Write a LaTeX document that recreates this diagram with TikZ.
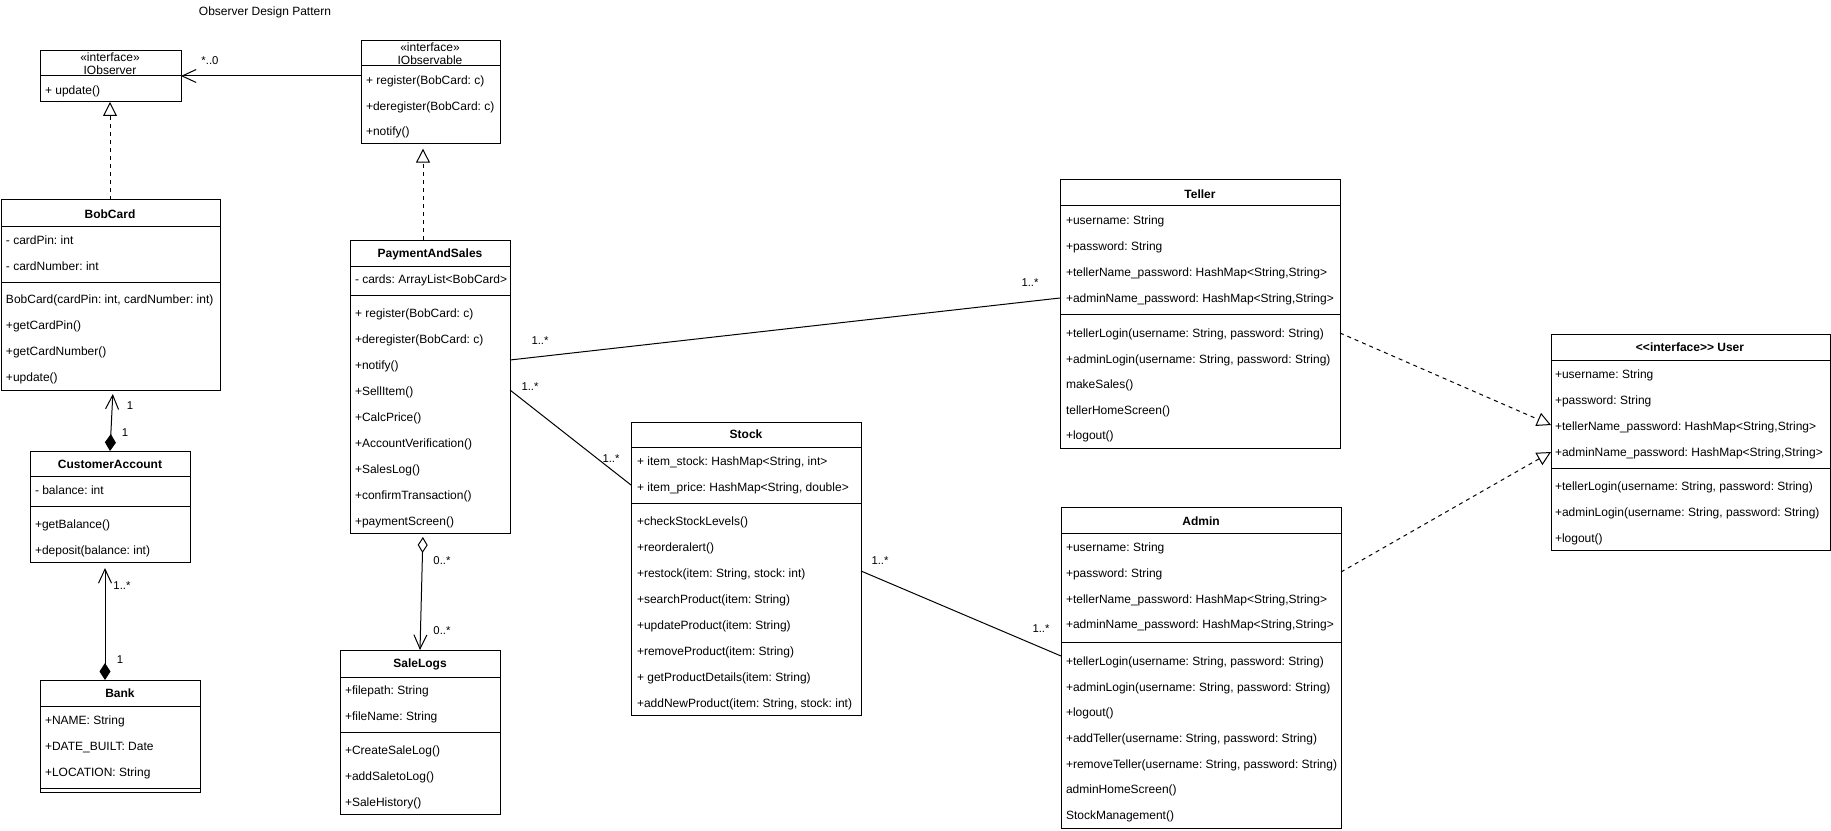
\documentclass[tikz,border=0pt]{standalone}
\usepackage{fontspec}
\setmainfont{Liberation Sans}[Ligatures=TeXOff]
\usetikzlibrary{arrows.meta}
\frenchspacing
\newcounter{rowc}
\newcommand\rw[3]{\stepcounter{rowc}\node[rowtext] (r\arabic{rowc}) at (#1,#2) {#3};}
\newcommand\ttl[3]{\stepcounter{rowc}\node[titletext] (r\arabic{rowc}) at (#1,#2) {#3};}
\newcommand\plain[3]{\stepcounter{rowc}\node[plaintext] (r\arabic{rowc}) at (#1,#2) {#3};}
\newcommand\mult[3]{\stepcounter{rowc}\node[multtext] (m\arabic{rowc}) at (#1,#2) {#3};}
\newcommand\cbox[5]{\node[classbox, minimum width={(#4-#2)*0.75pt}, minimum height={(#5-#3)*0.75pt}] (#1) at (#2,#3) {};}
\newcommand\sepl[3]{\draw (#1,#3) -- (#2,#3);}
\begin{document}
\begin{tikzpicture}[x=0.75pt,y=-0.75pt, line width=0.75pt,
  every node/.style={inner sep=0pt, outer sep=0pt},
  classbox/.style={draw, rectangle, anchor=north west, fill=none},
  rowtext/.style={anchor=base west, yshift=-3.2pt, font=\fontsize{9}{10.5}\selectfont},
  titletext/.style={anchor=base, yshift=-3.2pt, font=\fontsize{9}{10.5}\selectfont\bfseries},
  plaintext/.style={anchor=base, yshift=-3.2pt, font=\fontsize{9}{10.5}\selectfont},
  multtext/.style={font=\fontsize{8.5}{10}\selectfont},
  openarr/.style={-{Straight Barb[length=10.5pt,width=9.75pt]}},
  realize/.style={dash pattern=on 3pt off 3pt, -{Triangle[open,length=10.5pt,width=10.5pt]}},
  comp/.style={{Diamond[length=12.75pt,width=8.25pt]}-{Straight Barb[length=10.5pt,width=9.75pt]}},
  aggr/.style={{Diamond[open,length=12pt,width=7.5pt]}-{Straight Barb[length=10.5pt,width=9.75pt]}},
  assoc/.style={}
]
\useasboundingbox (0,0) rectangle (1831,831);

\plain{265}{11}{Observer Design Pattern}

% IObserver
\cbox{obsr}{40}{51}{181}{102}
\sepl{40}{181}{76}
\plain{110}{57}{«interface»}
\plain{110}{70}{IObserver}
\rw{45}{90}{+ update()}

% IObservable
\cbox{obsable}{361}{41}{500}{144}
\sepl{361}{500}{66}
\plain{430}{47}{«interface»}
\plain{430}{60}{IObservable}
\rw{366}{80}{+ register(BobCard: c)}
\rw{366}{106}{+deregister(BobCard: c)}
\rw{366}{131}{+notify()}

% BobCard
\cbox{bob}{1}{200}{220}{390}
\sepl{1}{220}{226}
\sepl{1}{220}{282}
\ttl{110}{214}{BobCard}
\rw{6}{240}{- cardPin: int}
\rw{6}{266}{- cardNumber: int}
\rw{6}{299}{BobCard(cardPin: int, cardNumber: int)}
\rw{6}{325}{+getCardPin()}
\rw{6}{351}{+getCardNumber()}
\rw{6}{377}{+update()}

% CustomerAccount
\cbox{cust}{30}{451}{190}{562}
\sepl{30}{190}{476}
\sepl{30}{190}{506}
\ttl{110}{464}{CustomerAccount}
\rw{35}{490}{- balance: int}
\rw{35}{524}{+getBalance()}
\rw{35}{550}{+deposit(balance: int)}

% Bank
\cbox{bank}{40}{680}{200}{792}
\sepl{40}{200}{706}
\sepl{40}{200}{788}
\ttl{120}{693}{Bank}
\rw{45}{720}{+NAME: String}
\rw{45}{746}{+DATE\_BUILT: Date}
\rw{45}{772}{+LOCATION: String}

% PaymentAndSales
\cbox{pay}{350}{240}{510}{533}
\sepl{350}{510}{266}
\sepl{350}{510}{295}
\ttl{430}{253}{PaymentAndSales}
\rw{355}{279}{- cards: ArrayList<BobCard>}
\rw{355}{313}{+ register(BobCard: c)}
\rw{355}{339}{+deregister(BobCard: c)}
\rw{355}{365}{+notify()}
\rw{355}{391}{+SellItem()}
\rw{355}{417}{+CalcPrice()}
\rw{355}{443}{+AccountVerification()}
\rw{355}{469}{+SalesLog()}
\rw{355}{495}{+confirmTransaction()}
\rw{355}{521}{+paymentScreen()}

% SaleLogs
\cbox{sale}{340}{650}{500}{814}
\sepl{340}{500}{677}
\sepl{340}{500}{732}
\ttl{420}{663}{SaleLogs}
\rw{345}{690}{+filepath: String}
\rw{345}{716}{+fileName: String}
\rw{345}{750}{+CreateSaleLog()}
\rw{345}{776}{+addSaletoLog()}
\rw{345}{802}{+SaleHistory()}

% Stock
\cbox{stock}{631}{422}{861}{715}
\sepl{631}{861}{447}
\sepl{631}{861}{503}
\ttl{746}{434}{Stock}
\rw{637}{461}{+ item\_stock: HashMap<String, int>}
\rw{637}{487}{+ item\_price: HashMap<String, double>}
\rw{637}{521}{+checkStockLevels()}
\rw{637}{547}{+reorderalert()}
\rw{637}{573}{+restock(item: String, stock: int)}
\rw{637}{599}{+searchProduct(item: String)}
\rw{637}{625}{+updateProduct(item: String)}
\rw{637}{651}{+removeProduct(item: String)}
\rw{637}{677}{+ getProductDetails(item: String)}
\rw{637}{703}{+addNewProduct(item: String, stock: int)}

% Teller
\cbox{tel}{1060}{180}{1340}{448}
\sepl{1060}{1340}{206}
\sepl{1060}{1340}{314}
\ttl{1200}{194}{Teller}
\rw{1066}{220}{+username: String}
\rw{1066}{246}{+password: String}
\rw{1066}{272}{+tellerName\_password: HashMap<String,String>}
\rw{1066}{298}{+adminName\_password: HashMap<String,String>}
\rw{1066}{333}{+tellerLogin(username: String, password: String)}
\rw{1066}{359}{+adminLogin(username: String, password: String)}
\rw{1066}{384}{makeSales()}
\rw{1066}{410}{tellerHomeScreen()}
\rw{1066}{435}{+logout()}

% Admin
\cbox{admin}{1061}{507}{1341}{828}
\sepl{1061}{1341}{533}
\sepl{1061}{1341}{642}
\ttl{1201}{521}{Admin}
\rw{1066}{547}{+username: String}
\rw{1066}{573}{+password: String}
\rw{1066}{599}{+tellerName\_password: HashMap<String,String>}
\rw{1066}{624}{+adminName\_password: HashMap<String,String>}
\rw{1066}{661}{+tellerLogin(username: String, password: String)}
\rw{1066}{687}{+adminLogin(username: String, password: String)}
\rw{1066}{712}{+logout()}
\rw{1066}{738}{+addTeller(username: String, password: String)}
\rw{1066}{764}{+removeTeller(username: String, password: String)}
\rw{1066}{789}{adminHomeScreen()}
\rw{1066}{815}{StockManagement()}

% User
\cbox{user}{1551}{334}{1830}{550}
\sepl{1551}{1830}{360}
\sepl{1551}{1830}{468}
\ttl{1690}{347}{<<interface>> User}
\rw{1555}{374}{+username: String}
\rw{1555}{400}{+password: String}
\rw{1555}{426}{+tellerName\_password: HashMap<String,String>}
\rw{1555}{452}{+adminName\_password: HashMap<String,String>}
\rw{1555}{486}{+tellerLogin(username: String, password: String)}
\rw{1555}{512}{+adminLogin(username: String, password: String)}
\rw{1555}{538}{+logout()}

% connectors
\draw[openarr] (obsable.west |- 0,76) -- (obsr.east |- 0,76);
\draw[realize] (110,0 |- bob.north) -- (110,0 |- obsr.south);
\draw[realize, shorten >=3.5pt] (423,0 |- pay.north) -- (423,0 |- obsable.south);
\draw[comp, shorten >=3pt] (110,0 |- cust.north) -- (113,0 |- bob.south);
\draw[comp, shorten >=4.5pt] (105,0 |- bank.north) -- (105,0 |- cust.south);
\draw[aggr, shorten <=3pt] (423,0 |- pay.south) -- (420,0 |- sale.north);
\draw[assoc] (pay.east |- 0,360) -- (tel.west |- 0,298);
\draw[assoc] (pay.east |- 0,390) -- (stock.west |- 0,485);
\draw[assoc] (stock.east |- 0,571) -- (admin.west |- 0,656);
\draw[realize] (tel.east |- 0,333) -- (user.west |- 0,425);
\draw[realize] (admin.east |- 0,572) -- (user.west |- 0,452);

% multiplicities
\mult{210}{61}{*..0}
\mult{130}{406}{1}
\mult{125}{433}{1}
\mult{122}{586}{1..*}
\mult{120}{660}{1}
\mult{442}{561}{0..*}
\mult{442}{631}{0..*}
\mult{540}{341}{1..*}
\mult{1030}{283}{1..*}
\mult{530}{387}{1..*}
\mult{611}{459}{1..*}
\mult{880}{561}{1..*}
\mult{1041}{629}{1..*}
\end{tikzpicture}
\end{document}
